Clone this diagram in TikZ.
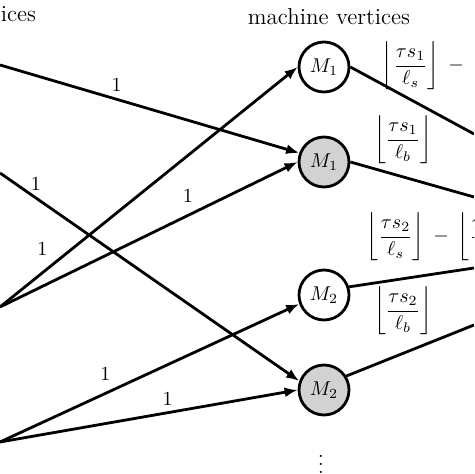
\documentclass[tikz,border=0pt]{standalone}
\usepackage{amsmath}
\usetikzlibrary{arrows.meta}

\tikzset{every picture/.style={line width=1.4pt}}

\begin{document}
\begin{tikzpicture}[x=0.5pt,y=0.5pt,yscale=-1,xscale=1,
	vtx/.style={draw,circle,minimum size=25pt,inner sep=0pt,fill=white},
	vtxb/.style={vtx,fill=gray!35},
	arr/.style={-{Latex[length=6.5pt,width=5pt]}}]
	\clip (0,0) rectangle (474,474);

	% Text Node
	\draw (39,22) node [anchor=base east][inner sep=0.75pt]  {\fontsize{11.5}{14}\selectfont vertices};
	% Text Node
	\draw (329,25) node [anchor=base][inner sep=0.75pt]  {\fontsize{11.5}{14}\selectfont machine vertices};

	% machine vertices
	\node [vtx]  (ms1) at (324,67)  {$M_1$};
	\node [vtxb] (mb1) at (324,162) {$M_1$};
	\node [vtx]  (ms2) at (324,295) {$M_2$};
	\node [vtxb] (mb2) at (324,390) {$M_2$};
	\node (dots) at (321,458) {$\vdots$};

	% ends cut by the frame
	\coordinate (l1) at (0,65);
	\coordinate (l2) at (0,173);
	\coordinate (l3) at (0,307);
	\coordinate (l4) at (0,442);
	\coordinate (r1) at (474,134);
	\coordinate (r2) at (474,197);
	\coordinate (r3) at (474,268);
	\coordinate (r4) at (474,325);

	%Straight Lines
	\draw [arr] (l1) -- (mb1.160) node [pos=0.39,above][inner sep=3pt] {$1$};
	\draw [arr] (l2) -- (mb2.160) node [pos=0.12,above][inner sep=3pt] {$1$};
	\draw [arr] (l3) -- (ms1.west) node [pos=0.184,above left][inner sep=3pt] {$1$};
	\draw [arr] (l3) -- (mb1.west) node [pos=0.673,above left][inner sep=3pt] {$1$};
	\draw [arr] (l4) -- (ms2.200) node [pos=0.394,above left][inner sep=3pt] {$1$};
	\draw [arr] (l4) -- (mb2.west) node [pos=0.563,above][inner sep=3pt] {$1$};

	%Straight Lines
	\draw (ms1.east) -- (r1);
	\draw (mb1.east) -- (r2);
	\draw (ms2.18) -- (r3);
	\draw (mb2.32) -- (r4);

	% Text Node
	\draw (379,66) node [anchor=west][inner sep=0.75pt]  {$\displaystyle\left\lfloor\frac{\tau s_1}{\ell_s}\right\rfloor\:-\:\left\lfloor\frac{\tau s_1}{\ell_b}\right\rfloor$};
	% Text Node
	\draw (403,140) node [inner sep=0.75pt]  {$\displaystyle\left\lfloor\frac{\tau s_1}{\ell_b}\right\rfloor$};
	% Text Node
	\draw (364,237) node [anchor=west][inner sep=0.75pt]  {$\displaystyle\left\lfloor\frac{\tau s_2}{\ell_s}\right\rfloor\:-\:\left\lfloor\frac{\tau s_2}{\ell_b}\right\rfloor$};
	% Text Node
	\draw (403,311) node [inner sep=0.75pt]  {$\displaystyle\left\lfloor\frac{\tau s_2}{\ell_b}\right\rfloor$};

\end{tikzpicture}
\end{document}
